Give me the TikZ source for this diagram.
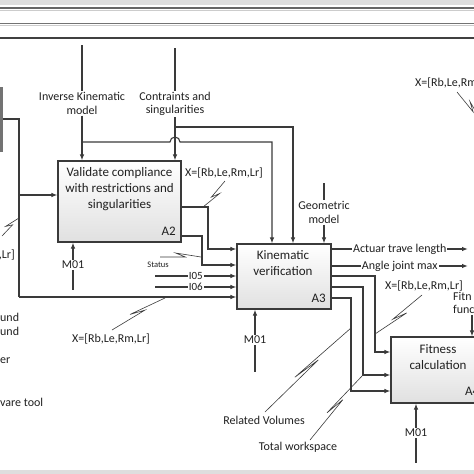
\documentclass[tikz,border=0pt]{standalone}
\usepackage{fontspec}
\setmainfont{Carlito}
\usetikzlibrary{arrows.meta,calc,positioning}
\definecolor{linecol}{HTML}{3A3A3A}
\definecolor{txtcol}{HTML}{202020}
\newcommand\lblfont{\fontsize{12}{13.5}\selectfont}
\newcommand\boxfont{\fontsize{13}{16}\selectfont}
% leader line with a zigzag in the middle
\newcommand\squig[2]{\draw[leader] (#1) -- ($(#1)!0.62!(#2)$) -- ($(#1)!0.38!(#2)!4pt!90:(#2)$) -- (#2);}

\begin{document}
\begin{tikzpicture}[x=1pt,y=-1pt,text=txtcol,
    wire/.style={draw=linecol,line width=1.1pt},
    flow/.style={wire,-{Latex[length=6pt,width=4.5pt]}},
    leader/.style={draw=linecol,line width=0.6pt},
    proc/.style={draw=linecol,line width=1.1pt,top color=white,bottom color=black!12},
    lbl/.style={align=center,inner sep=1pt,font=\lblfont},
    boxtxt/.style={align=center,inner sep=0pt,font=\boxfont},
    tag/.style={fill=white,inner sep=1pt,font=\fontsize{11}{12}\selectfont},
    frag/.style={lbl,anchor=west,inner sep=0pt}]
\useasboundingbox (0,0) rectangle (474,474);

%%%%% frame %%%%%
\fill[black!13] (0,0) rectangle (474,5);
\draw[black!60,line width=1.2pt] (0,8) -- (474,8);
\draw[black!20] (0,10) -- (474,10);
\draw[black!55,line width=1pt] (0,23) -- (474,23);
\draw[black!20] (0,25) -- (474,25);
\draw[black!75,line width=1.6pt] (0,38) -- (474,38);
\fill[black!13] (0,470) rectangle (474,474);
\fill[black!55] (0,87) rectangle (3,152);

%%%%% activities %%%%%
\node[proc,minimum width=123pt,minimum height=81pt] (a2) at (119.5,201.5) {};
\node[boxtxt] (a2txt) at (119.5,189) {Validate compliance\\with restrictions and\\singularities};
\node[boxtxt,anchor=south east] (a2id) at (176,236) {A2};

\node[proc,minimum width=94pt,minimum height=65pt] (a3) at (284,276.5) {};
\node[boxtxt] (a3txt) at (283,263.5) {Kinematic\\verification};
\node[boxtxt,anchor=south east] (a3id) at (326,303) {A3};

\node[proc,minimum width=140pt,minimum height=66pt] (a4) at (461,370) {};
\node[boxtxt] (a4txt) at (438,357) {Fitness\\calculation};
\node[boxtxt,anchor=south west] (a4id) at (465,396) {A4};

%%%%% controls %%%%%
\node[lbl] (ikm) at (82,103.5) {Inverse Kinematic\\model};
\node[lbl] (cns) at (175,104) {Contraints and\\singularities};
\node[lbl] (geo) at (324,212.5) {Geometric\\model};
\coordinate (ikmtop) at (82,45);
\coordinate (cnstop) at (175,48);
\coordinate (geotop) at (324,183);
\draw[wire] (ikmtop) -- (ikm.north);
\draw[wire] (cnstop) -- (cns.north);
\draw[wire] (geotop) -- (geo.north);
\draw[flow] (ikm.south) -- (ikm.south |- a2.north);
\draw[flow] (cns.south) -- (cns.south |- a2.north);
\draw[flow] (cns.south |- 0,127) -- (293,127) -- (293,0 |- a3.north);
\draw[flow] (ikm.south |- 0,142) -- (170,142) arc[start angle=180,end angle=360,radius=5] -- (272,142) -- (272,0 |- a3.north);
\draw[flow] (geo.south) -- (geo.south |- a3.north);

\node[lbl,anchor=north west,align=left] (fitfn) at (452,291) {Fitn\\func};
\draw[flow] (fitfn.south -| 472,0) -- (a4.north -| 472,0);

%%%%% inputs %%%%%
\coordinate (lbar) at (3,119);
\draw[wire] (lbar) -| (19,297);
\draw[flow] (19,195) -- (a2.west |- 0,195);
\draw[flow] (19,297) -- (a3.west |- 0,297);
\draw[flow] (a2.east |- 0,207) -| (208,249) -- (a3.west |- 0,249);
\draw[flow] (a2.east |- 0,236) -| (202,265) -- (a3.west |- 0,265);
\coordinate (i05) at (155,276);
\coordinate (i06) at (155,287);
\draw[flow] (i05) -- node[tag] {I05} (a3.west |- i05);
\draw[flow] (i06) -- node[tag] {I06} (a3.west |- i06);

%%%%% outputs %%%%%
\coordinate (out1) at (468,249);
\coordinate (out2) at (468,266);
\draw[flow] (a3.east |- out1) -- node[tag,font=\lblfont] {Actuar trave length} (out1);
\draw[flow] (a3.east |- out2) -- node[tag,font=\lblfont] {Angle joint max} (out2);
\draw[flow] (a3.east |- 0,276) -| (375,352) -- (a4.west |- 0,352);
\draw[flow] (a3.east |- 0,287) -| (363,375) -- (a4.west |- 0,375);
\draw[flow] (a3.east |- 0,298) -| (351,391) -- (a4.west |- 0,391);

%%%%% mechanisms %%%%%
\node[lbl] (m2) at (73,265) {M01};
\node[lbl] (m3) at (255,340) {M01};
\node[lbl] (m4) at (416,433) {M01};
\draw[flow] (m2) -- (m2 |- a2.south);
\draw[flow] (m3) -- (m3 |- a3.south);
\draw[flow] (m4) -- (m4 |- a4.south);
\draw[wire] (m2.south) -- (73,290);
\draw[wire] (m3.south) -- (255,372);
\draw[wire] (m4.south) -- (416,463);

%%%%% labels and leaders %%%%%
\node[lbl] (xa2) at (224,173) {X=[Rb,Le,Rm,Lr]};
\squig{225,181}{203,207}
\node[lbl] (xbot) at (111,339) {X=[Rb,Le,Rm,Lr]};
\squig{112,330}{165,298}
\node[lbl] (xa3) at (424,286) {X=[Rb,Le,Rm,Lr]};
\squig{422,295}{375,334}
\node[lbl,anchor=west] (xtop) at (414,83) {X=[Rb,Le,Rm,Lr]};
\squig{457,92}{483,124}
\node[lbl,anchor=east] (xleft) at (16,255) {X=[Rb,Le,Rm,Lr]};
\squig{2,236}{19,218}
\node[inner sep=1pt,font=\fontsize{8.5}{9}\selectfont] (stat) at (158,265) {Status};
\squig{160,257}{201,257}
\node[lbl] (relv) at (264,420) {Related Volumes};
\squig{265,412}{351,328}
\node[lbl] (totw) at (298,447) {Total workspace};
\squig{310,440}{363,375}

\node[frag] (f1) at (0,317) {und};
\node[frag] (f2) at (0,331) {und};
\node[frag] (f3) at (0,361) {er};
\node[frag] (f4) at (0,402) {vare tool};
\end{tikzpicture}
\end{document}
